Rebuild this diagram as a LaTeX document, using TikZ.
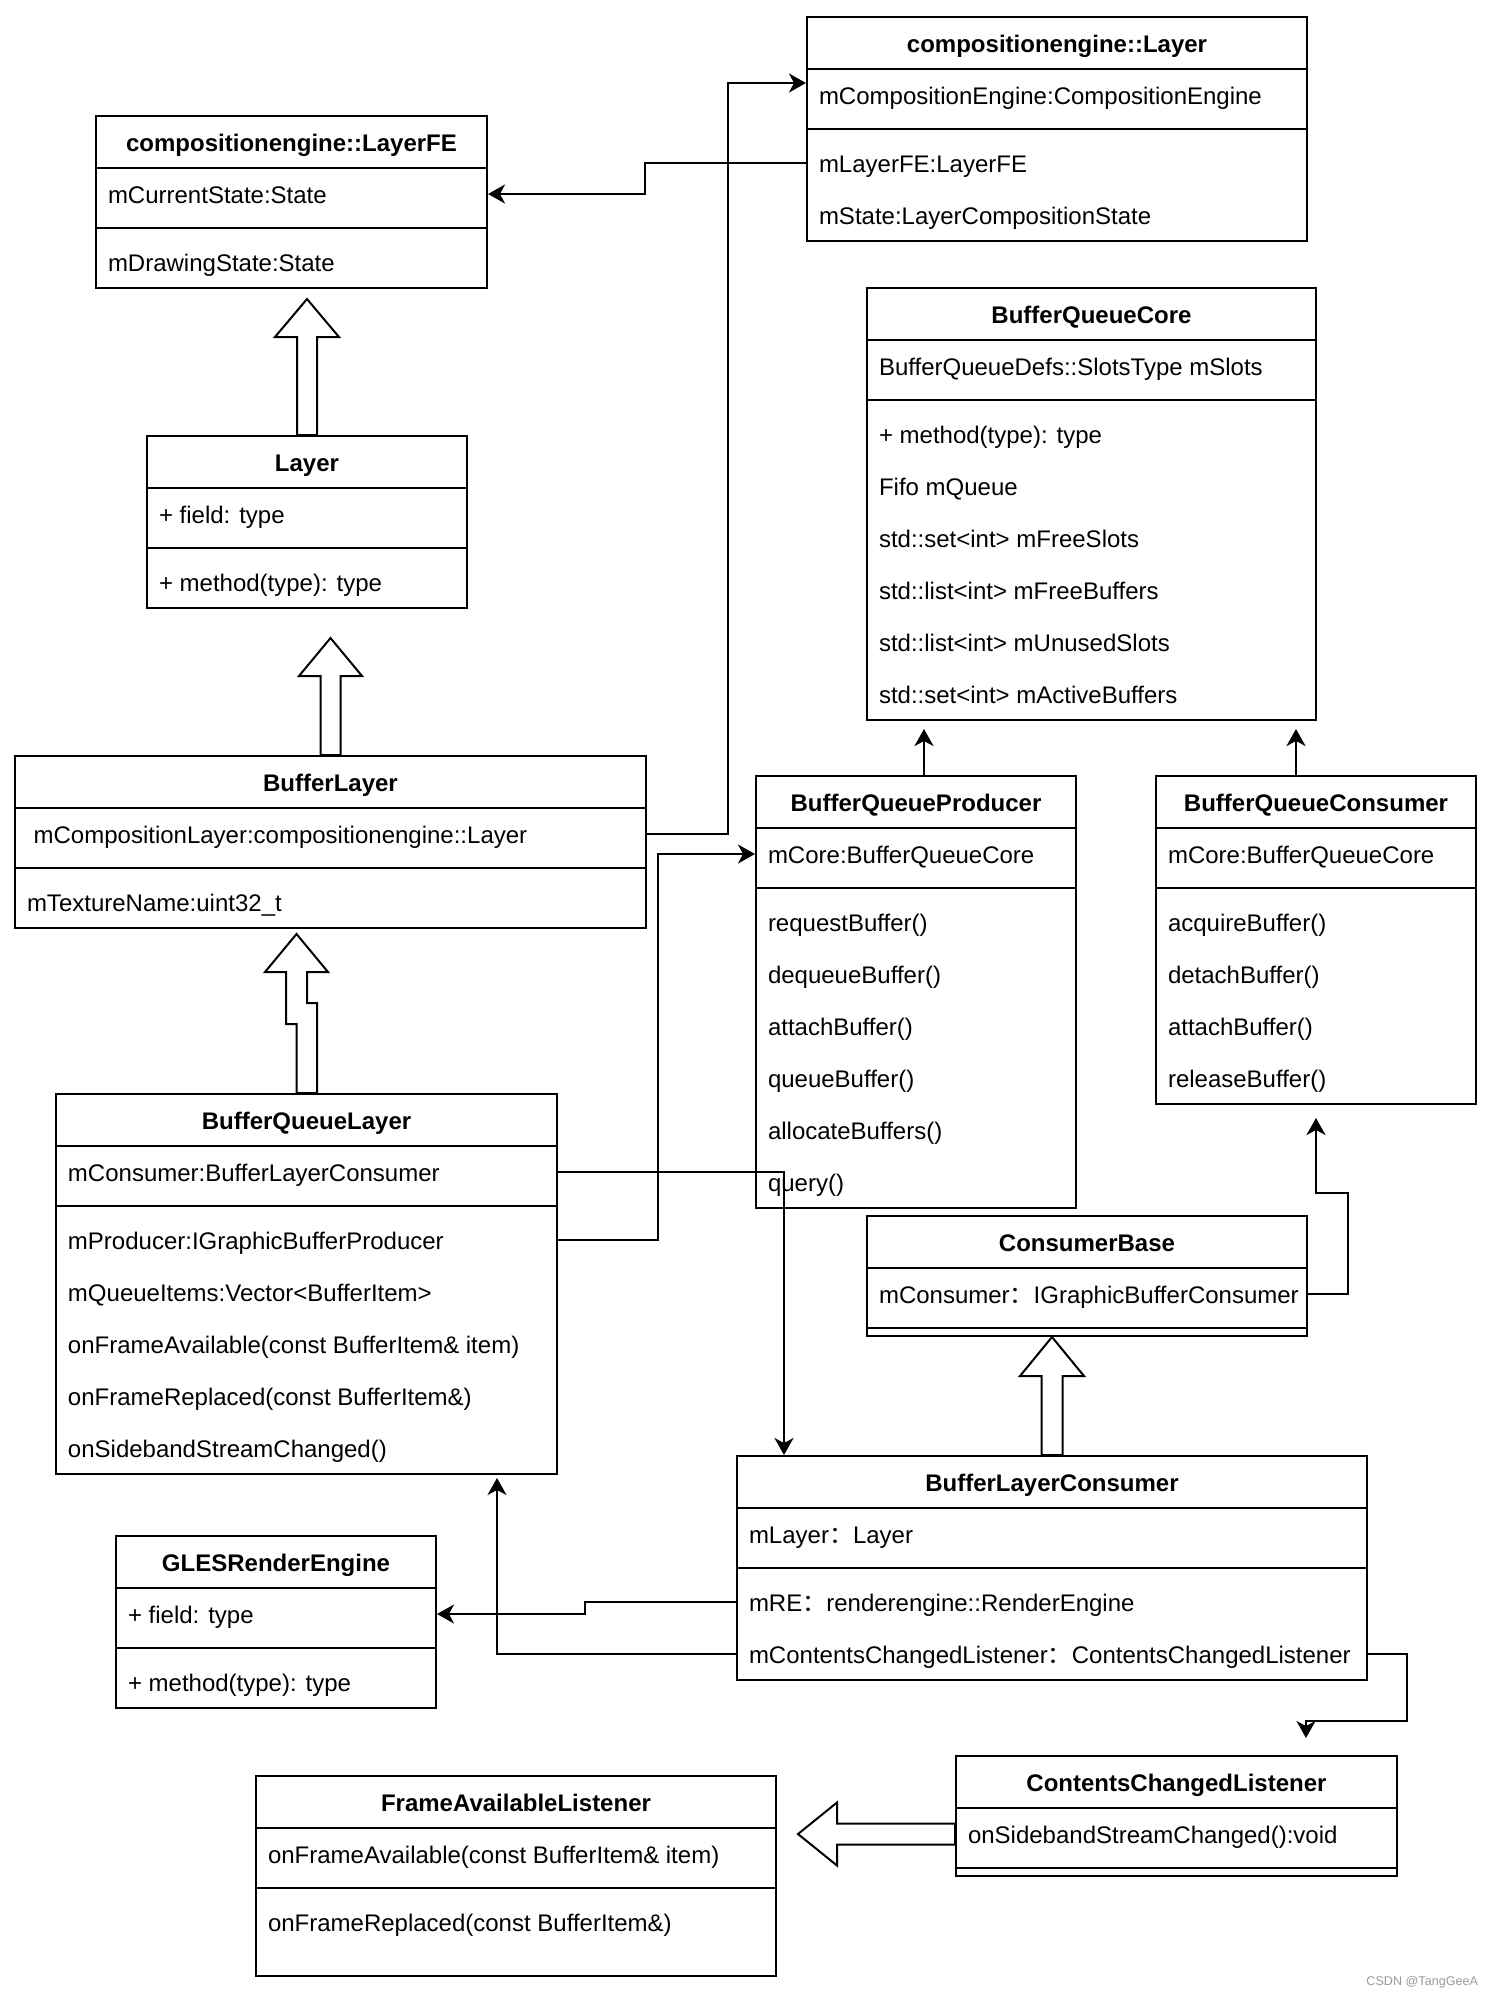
\documentclass[tikz,border=0pt]{standalone}
\usepackage{fontspec}
\setmainfont{Liberation Sans}
\newfontfamily\cjk{Noto Sans CJK SC}
\usetikzlibrary{arrows.meta, calc, fit}
\newcommand{\umlfont}{\fontsize{12}{14}\selectfont}
\newcommand{\fcolon}{{\cjk ：}}

\begin{document}
\begin{tikzpicture}[x=0.5pt, y=-0.5pt, line width=1pt,
  >={Stealth[length=8.5pt, width=9.5pt, inset=2.5pt]},
  cls/.style={draw, inner sep=0pt},
  head/.style={font=\umlfont\bfseries, inner sep=0pt, text height=9.8pt, text depth=0pt},
  row/.style={font=\umlfont, anchor=west, xshift=6pt, inner sep=0pt, text height=9.8pt, text depth=0pt},
  hollow/.style={draw, fill=white, line join=miter},
  wmark/.style={font=\fontsize{6.3}{7}\selectfont, text=black!40, inner sep=0pt}]
  \useasboundingbox (0,0) rectangle (1494,1999);
  \fill[white] (0,0) rectangle (1494,1999);

  % compositionengine::LayerFE
  \node[cls, fit={(96,116) (487,288)}] (lfe) {};
  \node[head] (lfe-t) at (lfe.north |- 0,142) {compositionengine::LayerFE};
  \foreach \y in {168,228} \draw (lfe.west |- 0,\y) -- (lfe.east |- 0,\y);
  \foreach \t/\y [count=\i] in {mCurrentState:State/194, mDrawingState:State/262}
    \node[row] (lfe-\i) at (lfe.west |- 0,\y) {\t};

  % compositionengine::Layer
  \node[cls, fit={(807,17) (1307,241)}] (cel) {};
  \node[head] (cel-t) at (cel.north |- 0,43) {compositionengine::Layer};
  \foreach \y in {69,129} \draw (cel.west |- 0,\y) -- (cel.east |- 0,\y);
  \foreach \t/\y [count=\i] in {mCompositionEngine:CompositionEngine/95, mLayerFE:LayerFE/163, mState:LayerCompositionState/215}
    \node[row] (cel-\i) at (cel.west |- 0,\y) {\t};

  % Layer
  \node[cls, fit={(147,436) (467,608)}] (lay) {};
  \node[head] (lay-t) at (lay.north |- 0,462) {Layer};
  \foreach \y in {488,548} \draw (lay.west |- 0,\y) -- (lay.east |- 0,\y);
  \foreach \t/\y [count=\i] in {+ field: type/514, + method(type): type/582}
    \node[row] (lay-\i) at (lay.west |- 0,\y) {\t};

  % BufferLayer
  \node[cls, fit={(15,756) (646,928)}] (bl) {};
  \node[head] (bl-t) at (bl.north |- 0,782) {BufferLayer};
  \foreach \y in {808,868} \draw (bl.west |- 0,\y) -- (bl.east |- 0,\y);
  \foreach \t/\y [count=\i] in {\ mCompositionLayer:compositionengine::Layer/834, mTextureName:uint32\_t/902}
    \node[row] (bl-\i) at (bl.west |- 0,\y) {\t};

  % BufferQueueLayer
  \node[cls, fit={(56,1094) (557,1474)}] (bql) {};
  \node[head] (bql-t) at (bql.north |- 0,1120) {BufferQueueLayer};
  \foreach \y in {1146,1206} \draw (bql.west |- 0,\y) -- (bql.east |- 0,\y);
  \foreach \t/\y [count=\i] in {mConsumer:BufferLayerConsumer/1172, mProducer:IGraphicBufferProducer/1240,
      mQueueItems:Vector<BufferItem>/1292, onFrameAvailable(const BufferItem\& item)/1344,
      onFrameReplaced(const BufferItem\&)/1396, onSidebandStreamChanged()/1448}
    \node[row] (bql-\i) at (bql.west |- 0,\y) {\t};

  % BufferQueueCore
  \node[cls, fit={(867,288) (1316,720)}] (bqc) {};
  \node[head] (bqc-t) at (bqc.north |- 0,314) {BufferQueueCore};
  \foreach \y in {340,400} \draw (bqc.west |- 0,\y) -- (bqc.east |- 0,\y);
  \foreach \t/\y [count=\i] in {BufferQueueDefs::SlotsType mSlots/366, + method(type): type/434, Fifo mQueue/486,
      std::set<int> mFreeSlots/538, std::list<int> mFreeBuffers/590, std::list<int> mUnusedSlots/642,
      std::set<int> mActiveBuffers/694}
    \node[row] (bqc-\i) at (bqc.west |- 0,\y) {\t};

  % BufferQueueProducer
  \node[cls, fit={(756,776) (1076,1208)}] (bqp) {};
  \node[head] (bqp-t) at (bqp.north |- 0,802) {BufferQueueProducer};
  \foreach \y in {828,888} \draw (bqp.west |- 0,\y) -- (bqp.east |- 0,\y);
  \foreach \t/\y [count=\i] in {mCore:BufferQueueCore/854, requestBuffer()/922, dequeueBuffer()/974,
      attachBuffer()/1026, queueBuffer()/1078, allocateBuffers()/1130, query()/1182}
    \node[row] (bqp-\i) at (bqp.west |- 0,\y) {\t};

  % BufferQueueConsumer
  \node[cls, fit={(1156,776) (1476,1104)}] (bqcon) {};
  \node[head] (bqcon-t) at (bqcon.north |- 0,802) {BufferQueueConsumer};
  \foreach \y in {828,888} \draw (bqcon.west |- 0,\y) -- (bqcon.east |- 0,\y);
  \foreach \t/\y [count=\i] in {mCore:BufferQueueCore/854, acquireBuffer()/922, detachBuffer()/974,
      attachBuffer()/1026, releaseBuffer()/1078}
    \node[row] (bqcon-\i) at (bqcon.west |- 0,\y) {\t};

  % ConsumerBase
  \node[cls, fit={(867,1216) (1307,1336)}] (cb) {};
  \node[head] (cb-t) at (cb.north |- 0,1242) {ConsumerBase};
  \foreach \y in {1268,1328} \draw (cb.west |- 0,\y) -- (cb.east |- 0,\y);
  \node[row] (cb-1) at (cb.west |- 0,1294) {mConsumer\fcolon IGraphicBufferConsumer};

  % BufferLayerConsumer
  \node[cls, fit={(737,1456) (1367,1680)}] (blc) {};
  \node[head] (blc-t) at (blc.north |- 0,1482) {BufferLayerConsumer};
  \foreach \y in {1508,1568} \draw (blc.west |- 0,\y) -- (blc.east |- 0,\y);
  \foreach \t/\y [count=\i] in {mLayer\fcolon Layer/1534, mRE\fcolon renderengine::RenderEngine/1602,
      mContentsChangedListener\fcolon ContentsChangedListener/1654}
    \node[row] (blc-\i) at (blc.west |- 0,\y) {\t};

  % GLESRenderEngine
  \node[cls, fit={(116,1536) (436,1708)}] (gles) {};
  \node[head] (gles-t) at (gles.north |- 0,1562) {GLESRenderEngine};
  \foreach \y in {1588,1648} \draw (gles.west |- 0,\y) -- (gles.east |- 0,\y);
  \foreach \t/\y [count=\i] in {+ field: type/1614, + method(type): type/1682}
    \node[row] (gles-\i) at (gles.west |- 0,\y) {\t};

  % FrameAvailableListener
  \node[cls, fit={(256,1776) (776,1976)}] (fal) {};
  \node[head] (fal-t) at (fal.north |- 0,1802) {FrameAvailableListener};
  \foreach \y in {1828,1888} \draw (fal.west |- 0,\y) -- (fal.east |- 0,\y);
  \foreach \t/\y [count=\i] in {onFrameAvailable(const BufferItem\& item)/1854, onFrameReplaced(const BufferItem\&)/1922}
    \node[row] (fal-\i) at (fal.west |- 0,\y) {\t};

  % ContentsChangedListener
  \node[cls, fit={(956,1756) (1397,1876)}] (ccl) {};
  \node[head] (ccl-t) at (ccl.north |- 0,1782) {ContentsChangedListener};
  \foreach \y in {1808,1868} \draw (ccl.west |- 0,\y) -- (ccl.east |- 0,\y);
  \node[row] (ccl-1) at (ccl.west |- 0,1834) {onSidebandStreamChanged():void};

  % Inheritance: hollow block arrows
  \draw[hollow] (lay.north) ++(-10,0) |- ($(lay.north |- lfe.south)+(-32,48)$) -- ($(lay.north |- lfe.south)+(0,10)$)
    -- ++(32,38) -| ($(lay.north)+(10,0)$) -- cycle;
  \draw[hollow] (bl.north) ++(-10,0) |- ($(bl.north |- lay.south)+(-31.5,67)$) -- ($(bl.north |- lay.south)+(0,29)$)
    -- ++(31.5,38) -| ($(bl.north)+(10,0)$) -- cycle;
  \draw[hollow] (bql.north) ++(-10,0) -- ++(0,-69) -- ++(-10.5,0) -- ++(0,-52) -- ++(-21,0) -- ++(31.5,-38)
    -- ++(31.5,38) -- ++(-21,0) -- ++(0,31) -- ++(10,0) -- ($(bql.north)+(10.5,0)$) -- cycle;
  \draw[hollow] (blc.north) ++(-10.5,0) |- ($(blc.north |- cb.south)+(-32,39)$) -- (blc.north |- cb.south)
    -- ++(32,39) -| ($(blc.north)+(10.5,0)$) -- cycle;
  \draw[hollow] (ccl.west |- ccl-1) ++(0,-10.5) -| ($(fal.east |- ccl-1)+(60,-31.5)$) -- ($(fal.east |- ccl-1)+(21,0)$)
    -- ++(39,31.5) |- ($(ccl.west |- ccl-1)+(0,10.5)$) -- cycle;

  % Associations
  \draw[->] (cel.west |- cel-2) -- ++(-161,0) |- (lfe.east |- lfe-1);
  \draw[->] (bl.east |- bl-1) -- ++(81,0) |- ($(cel.west |- cel-1)+(0,-12)$);
  \draw[->] (bql.east |- bql-2) -- ++(100,0) |- (bqp.west |- bqp-1);
  \draw[->] (bql.east |- bql-1) -| ($(blc.north west)+(48,0)$);
  \draw[->] ($(bqp.north)+(8,0)$) -- ($(bqp.north |- bqc.south)+(8,8)$);
  \draw[->] ($(bqcon.north)+(-20,0)$) -- ($(bqcon.north |- bqc.south)+(-20,8)$);
  \draw[->] (cb.east |- cb-1) -- ++(40,0) |- ($(bqcon.south)+(0,88)$) -- ($(bqcon.south)+(0,13)$);
  \draw[->] (blc.west |- blc-2) -- ++(-151,0) |- (gles.east |- gles-1);
  \draw[->] (blc.west |- blc-3) -| ($(bql.south)+(190.5,3)$);
  \draw[->] (blc.east |- blc-3) -- ++(39,0) |- ($(ccl.north)+(129.5,-34)$) -- ($(ccl.north)+(129.5,-17)$);

  \node[wmark, anchor=east] (wm) at (1479,1982) {CSDN @TangGeeA};
\end{tikzpicture}
\end{document}
